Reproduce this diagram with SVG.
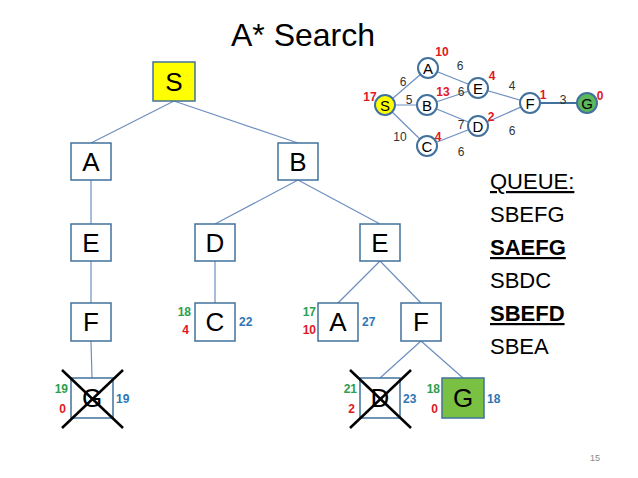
<svg xmlns="http://www.w3.org/2000/svg" width="638" height="478" viewBox="0 0 638 478">
<style>
text{font-family:"Liberation Sans",Arial,sans-serif}
.n rect{fill:#fff;stroke:#41719c;stroke-width:1.5}
.n text{font-size:26px;text-anchor:middle;fill:#000}
.e line{stroke:#6d8fbf;stroke-width:1.2}
.x line{stroke:#000;stroke-width:2.5}
.g{fill:#2e9e4f;font-size:12px;font-weight:bold}
.h{fill:#e0191f;font-size:12px;font-weight:bold}
.f{fill:#2e75b6;font-size:12px;font-weight:bold}
.s circle{fill:#fff;stroke:#41719c;stroke-width:2}
.s text{font-size:15px;text-anchor:middle;fill:#000}
.w{font-size:12px;fill:#333;text-anchor:middle}
.q{font-size:22px;fill:#000}
</style>
<rect width="638" height="478" fill="#fff"/>
<text x="303" y="46" font-size="32" text-anchor="middle">A* Search</text>
<g class="e" id="edges">
<line x1="174" y1="101" x2="91" y2="143"/><line x1="174" y1="101" x2="298" y2="143"/>
<line x1="91" y1="180" x2="91" y2="224"/><line x1="91" y1="261" x2="91" y2="303"/><line x1="91" y1="341" x2="92" y2="378"/>
<line x1="298" y1="180" x2="215" y2="224"/><line x1="298" y1="180" x2="380" y2="224"/>
<line x1="215" y1="261" x2="215" y2="303"/>
<line x1="380" y1="261" x2="338" y2="303"/><line x1="380" y1="261" x2="421" y2="303"/>
<line x1="421" y1="341" x2="380" y2="378"/><line x1="421" y1="341" x2="463" y2="378"/>
</g>
<g class="n" id="nS"><rect x="153" y="62" width="42" height="39" style="fill:#ffff00"/><text x="174" y="91">S</text></g>
<g class="n" id="nA"><rect x="71" y="143" width="40" height="37"/><text x="91" y="171">A</text></g>
<g class="n" id="nB"><rect x="278" y="143" width="40" height="37"/><text x="298" y="171">B</text></g>
<g class="n" id="nE1"><rect x="71" y="224" width="40" height="37"/><text x="91" y="252">E</text></g>
<g class="n" id="nD1"><rect x="195" y="224" width="40" height="37"/><text x="215" y="252">D</text></g>
<g class="n" id="nE2"><rect x="360" y="224" width="40" height="37"/><text x="380" y="252">E</text></g>
<g class="n" id="nF1"><rect x="71" y="303" width="40" height="38"/><text x="91" y="331">F</text></g>
<g class="n" id="nC"><rect x="195" y="303" width="40" height="38"/><text x="215" y="331">C</text></g>
<g class="n" id="nA2"><rect x="318" y="303" width="40" height="38"/><text x="338" y="331">A</text></g>
<g class="n" id="nF2"><rect x="401" y="303" width="40" height="38"/><text x="421" y="331">F</text></g>
<g class="n" id="nG1"><rect x="71" y="378" width="42" height="40"/><text x="92" y="407">G</text></g>
<g class="n" id="nD2"><rect x="360" y="378" width="40" height="40"/><text x="380" y="407">D</text></g>
<g class="n" id="nG2"><rect x="442" y="378" width="42" height="40" style="fill:#7ac143;stroke:#41719c"/><text x="463" y="407">G</text></g>
<g class="x"><line x1="62" y1="370" x2="123" y2="428"/><line x1="123" y1="370" x2="62" y2="428"/>
<line x1="350" y1="370" x2="411" y2="428"/><line x1="411" y1="370" x2="350" y2="428"/></g>
<g text-anchor="end">
<text class="g" x="191" y="316">18</text><text class="h" x="189" y="334">4</text>
<text class="g" x="316" y="316">17</text><text class="h" x="316" y="334">10</text>
<text class="g" x="68" y="393">19</text><text class="h" x="66" y="413">0</text>
<text class="g" x="357" y="393">21</text><text class="h" x="355" y="413">2</text>
<text class="g" x="440" y="393">18</text><text class="h" x="438" y="413">0</text>
</g>
<text class="f" x="239" y="326">22</text><text class="f" x="362" y="326">27</text>
<text class="f" x="116" y="403">19</text><text class="f" x="403" y="403">23</text><text class="f" x="487" y="403">18</text>
<g class="e" id="small-edges">
<line x1="385" y1="105" x2="428" y2="68"/><line x1="385" y1="105" x2="427" y2="105"/><line x1="385" y1="105" x2="427" y2="146"/>
<line x1="428" y1="68" x2="478" y2="88"/><line x1="427" y1="105" x2="478" y2="88"/><line x1="427" y1="105" x2="478" y2="126"/>
<line x1="427" y1="146" x2="478" y2="126"/><line x1="478" y1="88" x2="530" y2="103"/><line x1="478" y1="126" x2="530" y2="103"/>
<line x1="530" y1="103" x2="587" y2="103" style="stroke:#41719c;stroke-width:2"/>
</g>
<g class="s">
<g id="sS"><circle cx="385" cy="105" r="10" style="fill:#ffff00"/><text x="385" y="111">S</text></g>
<g id="sA"><circle cx="428" cy="68" r="10"/><text x="428" y="74">A</text></g>
<g id="sB"><circle cx="427" cy="105" r="10"/><text x="427" y="111">B</text></g>
<g id="sC"><circle cx="427" cy="146" r="10"/><text x="427" y="152">C</text></g>
<g id="sE"><circle cx="478" cy="88" r="10"/><text x="478" y="94">E</text></g>
<g id="sD"><circle cx="478" cy="126" r="10"/><text x="478" y="132">D</text></g>
<g id="sF"><circle cx="530" cy="103" r="10"/><text x="530" y="109">F</text></g>
<g id="sG"><circle cx="587" cy="103" r="10" style="fill:#5cb85c"/><text x="587" y="109">G</text></g>
</g>
<text class="w" x="403" y="86">6</text><text class="w" x="409" y="104">5</text><text class="w" x="400" y="141">10</text>
<text class="w" x="460" y="70">6</text><text class="w" x="461" y="96">6</text><text class="w" x="461" y="129">7</text>
<text class="w" x="461" y="156">6</text><text class="w" x="512" y="90">4</text><text class="w" x="512" y="135">6</text><text class="w" x="563" y="104">3</text>
<g text-anchor="middle">
<text class="h" x="442" y="56">10</text><text class="h" x="370" y="101">17</text><text class="h" x="443" y="96">13</text>
<text class="h" x="438" y="141">4</text><text class="h" x="492" y="80">4</text><text class="h" x="491" y="121">2</text>
<text class="h" x="543" y="99">1</text><text class="h" x="600" y="100">0</text>
</g>
<text class="q" x="490" y="189" text-decoration="underline">QUEUE:</text>
<text class="q" x="490" y="222">SBEFG</text>
<text class="q" x="490" y="255" font-weight="bold" text-decoration="underline">SAEFG</text>
<text class="q" x="490" y="288">SBDC</text>
<text class="q" x="490" y="321" font-weight="bold" text-decoration="underline">SBEFD</text>
<text class="q" x="490" y="354">SBEA</text>
<text x="595" y="461" font-size="9" fill="#888" text-anchor="middle">15</text>
</svg>
